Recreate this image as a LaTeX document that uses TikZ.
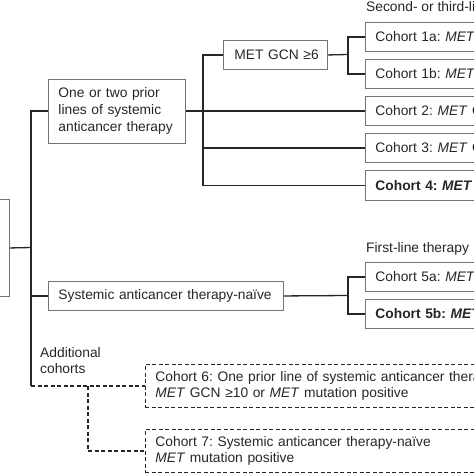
\documentclass[tikz,border=0pt]{standalone}
\usepackage{fontspec}
\setmainfont{Liberation Sans}
\begin{document}
\frenchspacing
\begin{tikzpicture}[x=1pt,y=-1pt,
  txt/.style={font=\frenchspacing\fontsize{13.8}{16.7}\selectfont, text=black!85},
  box/.style={txt, draw=black!55, line width=0.9pt, anchor=north west, inner xsep=10pt, inner ysep=0pt, align=left},
  dbox/.style={box, draw=black!85, dash pattern=on 4pt off 2.5pt},
  conn/.style={draw=black!85, line width=1.3pt},
  dconn/.style={draw=black!85, line width=1.1pt, dash pattern=on 4pt off 2.5pt},
  lab/.style={txt, anchor=west, inner sep=0pt, align=left}]
\useasboundingbox (0,0) rectangle (474,474);
\clip (0,0) rectangle (474,474);
% boxes
\node[box, minimum width=109pt, minimum height=97pt, text width=89pt] (left) at (-100,199) {};
\node[box, minimum width=137pt, minimum height=64pt, text width=117pt] (prior) at (48,78.5) {One or two prior\\lines of systemic\\anticancer therapy};
\node[box, minimum width=104pt, minimum height=29pt, inner xsep=8pt, text width=88pt] (met) at (223,40) {\hspace*{3pt}MET GCN ≥6};
\node[box, minimum width=235pt, minimum height=29pt, text width=215pt] (naive) at (48,281) {Systemic anticancer therapy-naïve};
\node[box, minimum width=160pt, minimum height=29pt, text width=140pt] (c1a) at (365,22) {Cohort 1a: \textit{MET}};
\node[box, minimum width=160pt, minimum height=29pt, text width=140pt] (c1b) at (365,59) {Cohort 1b: \textit{MET}};
\node[box, minimum width=160pt, minimum height=29pt, text width=140pt] (c2) at (365,96) {Cohort 2: \textit{MET} G};
\node[box, minimum width=160pt, minimum height=29pt, text width=140pt] (c3) at (365,133) {Cohort 3: \textit{MET} G};
\node[box, minimum width=160pt, minimum height=30pt, text width=140pt] (c4) at (365,170) {\textbf{Cohort 4: \textit{MET}}};
\node[box, minimum width=160pt, minimum height=29pt, text width=140pt] (c5a) at (365,262) {Cohort 5a: \textit{MET}};
\node[box, minimum width=160pt, minimum height=29pt, text width=140pt] (c5b) at (365,299) {\textbf{Cohort 5b: \textit{MET}}};
\node[dbox, minimum width=400pt, minimum height=43pt, text width=380pt] (c6) at (145,364) {Cohort 6: One prior line of systemic anticancer thera\\\textit{MET} GCN ≥10 or \textit{MET} mutation positive};
\node[dbox, minimum width=400pt, minimum height=43pt, text width=380pt] (c7) at (145,429) {Cohort 7: Systemic anticancer therapy-naïve\\\textit{MET} mutation positive};
% labels
\node[lab] (l1) at (366,7) {Second- or third-li};
\node[lab] (l2) at (366,249) {First-line therapy};
\node[lab, anchor=north west] (l3) at (40,347) {Additional\\cohorts};
% junction coordinates
\coordinate (trunk) at (31,247.5);
\coordinate (s1) at (203,110.5);
\coordinate (s2) at (348,54.5);
\coordinate (s3) at (348,295.5);
\coordinate (addx) at (88,386);
% connectors
\draw[conn] (left.east) -- (trunk);
\draw[conn] (prior.west) -| (trunk) |- (naive.west);
\draw[conn] (naive.west -| trunk) -- (trunk |- c6.west);
\draw[dconn] (trunk |- c6.west) -- (c6.west);
\draw[dconn] (addx) |- (c7.west);
\draw[conn] (prior.east) -- (c2.west);
\draw[conn] (met.west) -| (s1) |- (c4.west);
\draw[conn] (s1 |- c3.west) -- (c3.west);
\draw[conn] (met.east) -- (s2);
\draw[conn] (c1a.west) -| (s2) |- (c1b.west);
\draw[conn] (naive.east) -- (s3);
\draw[conn] (c5a.west) -| (s3) |- (c5b.west);
\end{tikzpicture}
\end{document}
